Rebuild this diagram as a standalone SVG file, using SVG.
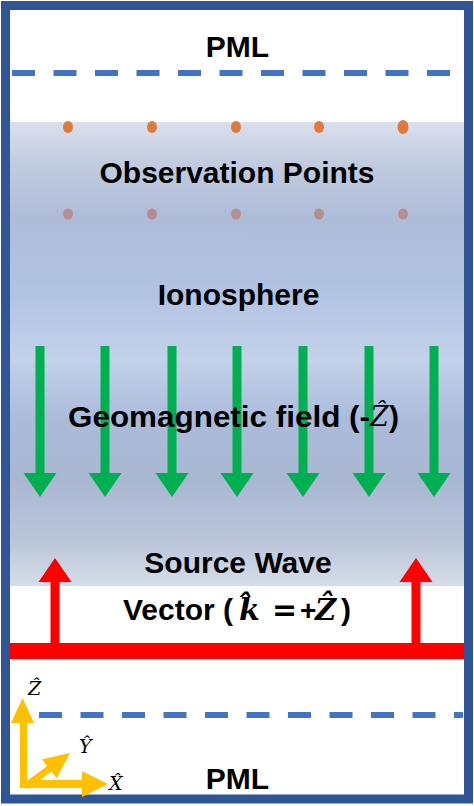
<svg xmlns="http://www.w3.org/2000/svg" width="474" height="806" viewBox="0 0 474 806">
<defs>
<linearGradient id="iono" x1="0" y1="0" x2="0" y2="1">
<stop offset="0" stop-color="#dae0ec"/>
<stop offset="0.08" stop-color="#c3cde0"/>
<stop offset="0.21" stop-color="#aebcd8"/>
<stop offset="0.36" stop-color="#b1c2e2"/>
<stop offset="0.51" stop-color="#c3d1ea"/>
<stop offset="0.64" stop-color="#abbbda"/>
<stop offset="0.77" stop-color="#a9b7d2"/>
<stop offset="0.90" stop-color="#bac5d9"/>
<stop offset="1" stop-color="#d6dce8"/>
</linearGradient>
</defs>
<style>
.lbl{font-family:"Liberation Sans",Arial,sans-serif;font-weight:bold;font-size:30px;fill:#000}
.math{font-family:"DejaVu Serif","Liberation Serif",serif;font-style:italic}
.dash{stroke:#4472C4;stroke-width:6;stroke-dasharray:23 18.5;fill:none}
.obs1{fill:#DE7A3A}
.obs2{fill:#B58F8D}
.green{fill:#00B050}
.red{fill:#FF0000}
.yel{fill:#FFC000}
</style>
<rect x="0" y="0" width="474" height="806" fill="#ffffff"/>
<g id="ionosphere-region">
<rect x="10" y="122" width="454" height="464" fill="url(#iono)"/>
</g>
<g id="frame">
<rect x="5.5" y="5.5" width="463" height="793.5" fill="none" stroke="#2F5597" stroke-width="9"/>
</g>
<g id="pml-top">
<line class="dash" x1="12" y1="73" x2="463" y2="73"/>
<text class="lbl" x="237.5" y="57" text-anchor="middle">PML</text>
</g>
<g id="observation-points">
<ellipse class="obs1" cx="68" cy="127" rx="5" ry="6"/>
<ellipse class="obs1" cx="152" cy="127" rx="5" ry="6"/>
<ellipse class="obs1" cx="236" cy="127" rx="5" ry="6"/>
<ellipse class="obs1" cx="319" cy="127" rx="5" ry="6"/>
<ellipse class="obs1" cx="403" cy="127" rx="5.5" ry="7"/>
<text class="lbl" x="237" y="183" text-anchor="middle">Observation Points</text>
<ellipse class="obs2" cx="68" cy="214" rx="5" ry="5.5"/>
<ellipse class="obs2" cx="152" cy="214" rx="5" ry="5.5"/>
<ellipse class="obs2" cx="236" cy="214" rx="5" ry="5.5"/>
<ellipse class="obs2" cx="319" cy="214" rx="5" ry="5.5"/>
<ellipse class="obs2" cx="403" cy="214" rx="5" ry="5.5"/>
</g>
<g id="ionosphere-label">
<text class="lbl" x="238.5" y="305" text-anchor="middle">Ionosphere</text>
</g>
<g id="connectors">
<g id="geomagnetic-arrows" class="green">
<path d="M35.5 346h9v127h12l-16.5 24l-16.5 -24h12z"/>
<path d="M100.5 346h9v127h12l-16.5 24l-16.5 -24h12z"/>
<path d="M167.5 346h9v127h12l-16.5 24l-16.5 -24h12z"/>
<path d="M232.5 346h9v127h12l-16.5 24l-16.5 -24h12z"/>
<path d="M298.5 346h9v127h12l-16.5 24l-16.5 -24h12z"/>
<path d="M364.5 346h9v127h12l-16.5 24l-16.5 -24h12z"/>
<path d="M429.5 346h9v127h12l-16.5 24l-16.5 -24h12z"/>
</g>
<g id="source-arrows" class="red">
<path d="M50.5 643v-61h-12l16.5 -24l16.5 24h-12v61z"/>
<path d="M411.5 643v-61h-12l16.5 -24l16.5 24h-12v61z"/>
</g>
</g>
<g id="geomagnetic-label">
<text class="lbl" y="427"><tspan x="68" textLength="302" lengthAdjust="spacingAndGlyphs">Geomagnetic field (-</tspan><tspan class="math" x="370" y="426" font-size="27" font-weight="normal">Ẑ</tspan><tspan x="389" y="427">)</tspan></text>
</g>
<g id="source-wave">
<rect class="red" x="10" y="643" width="454" height="16"/>
<text class="lbl" x="238" y="573" text-anchor="middle">Source Wave</text>
<text class="lbl" y="620"><tspan x="123">Vector (</tspan><tspan class="math" x="239" font-size="30">k̂</tspan><tspan x="272" font-family="DejaVu Sans">=</tspan><tspan x="300" font-size="28">+</tspan><tspan class="math" x="315" font-size="29">Ẑ</tspan><tspan x="341">)</tspan></text>
</g>
<g id="pml-bottom">
<line class="dash" x1="39" y1="715" x2="463" y2="715"/>
<text class="lbl" x="237.5" y="789" text-anchor="middle">PML</text>
</g>
<g id="axes">
<path class="yel" d="M20 788v-65h-9l11.5 -25l11.5 25h-7v57h55v-9l26 13l-26 13v-9z"/>
<polygon class="yel" points="23.9,783.2 47.2,766 42,759.3 70,753 56.6,778.3 51.4,771.6 28.1,788.8"/>
<text class="math" x="28" y="695" font-size="19">Ẑ</text>
<text class="math" x="79" y="753" font-size="19">Ŷ</text>
<text class="math" x="109" y="790" font-size="19">X̂</text>
</g>
</svg>
